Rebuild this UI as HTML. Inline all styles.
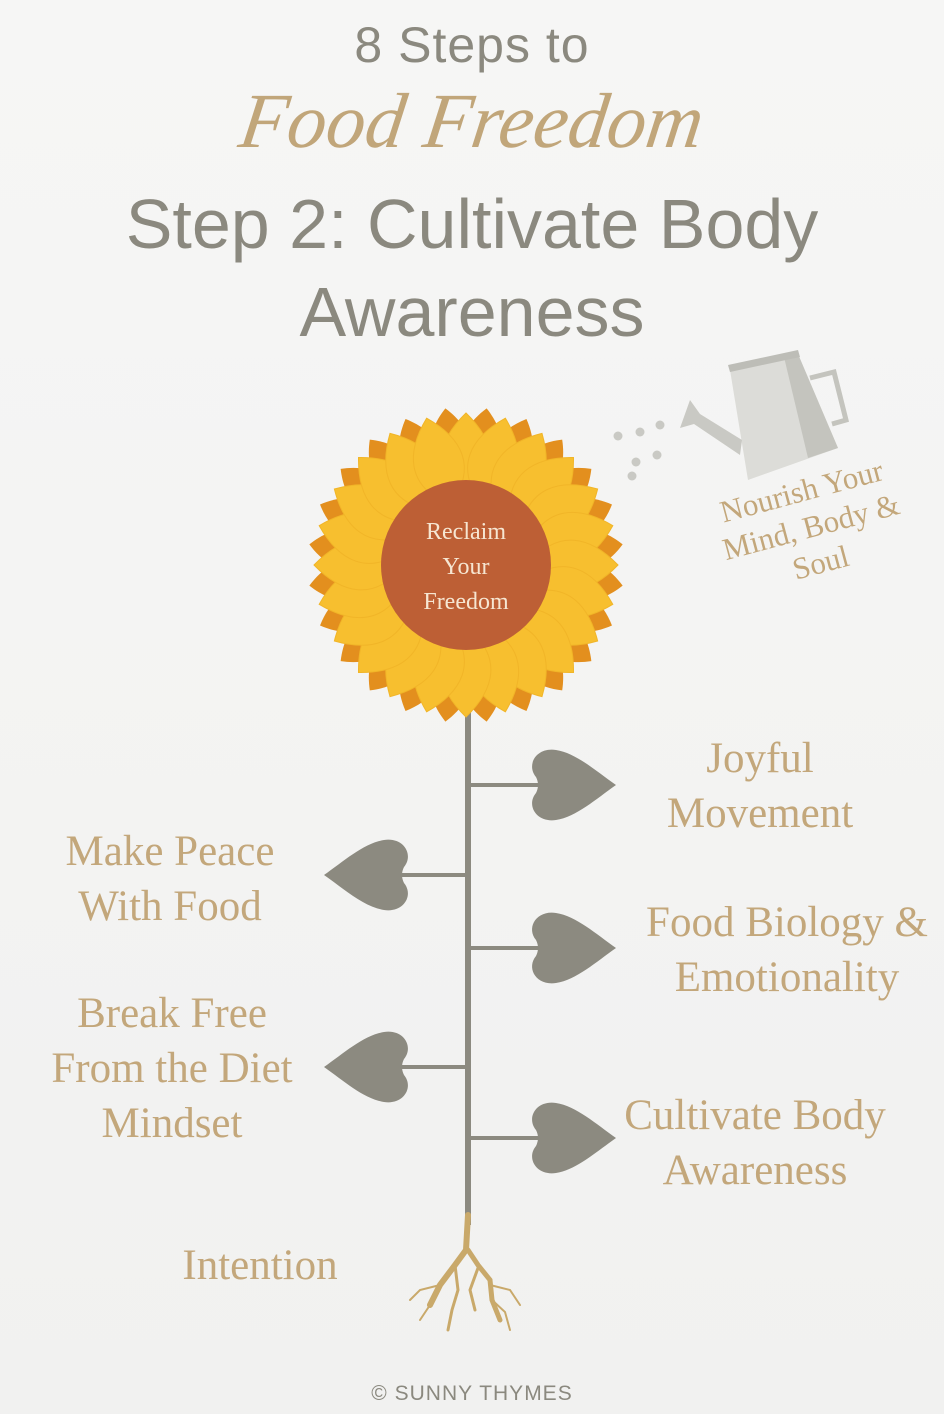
<!DOCTYPE html>
<html><head><meta charset="utf-8"><style>
html,body{margin:0;padding:0;background:#f4f4f3}
body{width:944px;height:1414px;position:relative;overflow:hidden;background:linear-gradient(180deg,#f6f6f5,#f1f1f0)}
.t{position:absolute;left:0;width:944px;text-align:center;font-family:"Liberation Sans",sans-serif;color:#8b897f}
.s{position:absolute;font-family:"Liberation Serif",serif;color:#c3a77b;font-size:43px;line-height:55px;text-align:center}
</style></head><body>
<div class="t" style="top:16px;font-size:50px;letter-spacing:1px">8 Steps to</div>
<div class="t" style="top:76px;font-size:78px;font-family:'Liberation Serif',serif;font-style:italic;color:#c1a67a;transform:skewX(-8deg)">Food Freedom</div>
<div class="t" style="top:180px;font-size:70px;line-height:88px">Step 2: Cultivate Body<br>Awareness</div>

<svg width="944" height="1414" style="position:absolute;left:0;top:0">
<defs>
<path id="h" d="M88,0 C68,-14 48,-32 28,-35 C8,-38 -2,-20 8,-8 Q12,0 8,8 C-2,20 8,38 28,35 C48,32 68,14 88,0 Z" fill="#8c8a80"/>
<path id="p" d="M0,-158 C24,-135 34,-100 0,-62 C-34,-100 -24,-135 0,-158 Z"/>
<path id="q" d="M0,-152 C28,-125 38,-92 0,-62 C-38,-92 -28,-125 0,-152 Z"/>
</defs>
<rect x="465" y="700" width="6" height="525" fill="#8c8a80"/>
<g stroke="#8c8a80" stroke-width="4">
<line x1="468" y1="785" x2="540" y2="785"/>
<line x1="468" y1="948" x2="540" y2="948"/>
<line x1="468" y1="1138" x2="540" y2="1138"/>
<line x1="468" y1="875" x2="400" y2="875"/>
<line x1="468" y1="1067" x2="400" y2="1067"/>
</g>
<use href="#h" transform="translate(528,785)"/>
<use href="#h" transform="translate(528,948)"/>
<use href="#h" transform="translate(528,1138)"/>
<use href="#h" transform="translate(412,875) scale(-1,1)"/>
<use href="#h" transform="translate(412,1067) scale(-1,1)"/>
<g stroke="#c9a96a" fill="none" stroke-linecap="round">
<path d="M468,1215 L466,1250 L455,1265 L440,1285 L430,1305" stroke-width="6"/>
<path d="M468,1250 L478,1265 L490,1280 L492,1300 L500,1320" stroke-width="5"/>
<path d="M455,1265 L458,1290 L452,1310 L448,1330" stroke-width="3"/>
<path d="M478,1268 L470,1290 L475,1310" stroke-width="3"/>
<path d="M440,1285 L420,1290 L410,1300" stroke-width="2"/>
<path d="M490,1285 L510,1290 L520,1305" stroke-width="2"/>
<path d="M430,1305 L420,1320" stroke-width="2"/>
<path d="M492,1300 L505,1312 L510,1330" stroke-width="2"/>
</g>
<g transform="translate(466,565)">
<g fill="#e38f1e">
<use href="#p" transform="rotate(7.5)"/><use href="#p" transform="rotate(22.5)"/><use href="#p" transform="rotate(37.5)"/><use href="#p" transform="rotate(52.5)"/><use href="#p" transform="rotate(67.5)"/><use href="#p" transform="rotate(82.5)"/><use href="#p" transform="rotate(97.5)"/><use href="#p" transform="rotate(112.5)"/><use href="#p" transform="rotate(127.5)"/><use href="#p" transform="rotate(142.5)"/><use href="#p" transform="rotate(157.5)"/><use href="#p" transform="rotate(172.5)"/><use href="#p" transform="rotate(187.5)"/><use href="#p" transform="rotate(202.5)"/><use href="#p" transform="rotate(217.5)"/><use href="#p" transform="rotate(232.5)"/><use href="#p" transform="rotate(247.5)"/><use href="#p" transform="rotate(262.5)"/><use href="#p" transform="rotate(277.5)"/><use href="#p" transform="rotate(292.5)"/><use href="#p" transform="rotate(307.5)"/><use href="#p" transform="rotate(322.5)"/><use href="#p" transform="rotate(337.5)"/><use href="#p" transform="rotate(352.5)"/>
</g>
<g fill="#f7bf2f" stroke="#f1b528" stroke-width="1">
<use href="#q" transform="rotate(0)"/><use href="#q" transform="rotate(15)"/><use href="#q" transform="rotate(30)"/><use href="#q" transform="rotate(45)"/><use href="#q" transform="rotate(60)"/><use href="#q" transform="rotate(75)"/><use href="#q" transform="rotate(90)"/><use href="#q" transform="rotate(105)"/><use href="#q" transform="rotate(120)"/><use href="#q" transform="rotate(135)"/><use href="#q" transform="rotate(150)"/><use href="#q" transform="rotate(165)"/><use href="#q" transform="rotate(180)"/><use href="#q" transform="rotate(195)"/><use href="#q" transform="rotate(210)"/><use href="#q" transform="rotate(225)"/><use href="#q" transform="rotate(240)"/><use href="#q" transform="rotate(255)"/><use href="#q" transform="rotate(270)"/><use href="#q" transform="rotate(285)"/><use href="#q" transform="rotate(300)"/><use href="#q" transform="rotate(315)"/><use href="#q" transform="rotate(330)"/><use href="#q" transform="rotate(345)"/>
</g>
<circle r="85" fill="#bd5f35"/>
<text y="-26" text-anchor="middle" font-family="Liberation Serif,serif" font-size="24" fill="#f6e6d2">Reclaim</text>
<text y="9" text-anchor="middle" font-family="Liberation Serif,serif" font-size="24" fill="#f6e6d2">Your</text>
<text y="44" text-anchor="middle" font-family="Liberation Serif,serif" font-size="24" fill="#f6e6d2">Freedom</text>
</g>
<g fill="#c9c9c4">
<path d="M730,370 L798,354 L838,448 L748,480 Z" fill="#dcdcd8"/>
<path d="M784,357 L798,354 L838,448 L808,458 Z" fill="#c4c4be"/>
<path d="M728,365 L798,350 L800,357 L730,372 Z" fill="#bdbdb7"/>
<path d="M810,378 L834,372 L846,420 L832,424" fill="none" stroke="#c4c4be" stroke-width="5"/>
<path d="M742,440 L700,414 L690,400 L680,428 L694,424 L740,455 Z"/>
<circle cx="660" cy="425" r="4.5"/><circle cx="640" cy="432" r="4.5"/><circle cx="618" cy="436" r="4.5"/>
<circle cx="657" cy="455" r="4.5"/><circle cx="636" cy="462" r="4.5"/><circle cx="632" cy="476" r="4.5"/>
</g>
<g font-family="Liberation Serif,serif" font-size="31" fill="#c3a77b" text-anchor="middle" transform="rotate(-15 812 530)">
<text x="812" y="500">Nourish Your</text>
<text x="812" y="537">Mind, Body &amp;</text>
<text x="812" y="574">Soul</text>
</g>
</svg>

<div class="s" style="left:610px;top:731px;width:300px">Joyful<br>Movement</div>
<div class="s" style="left:20px;top:824px;width:300px">Make Peace<br>With Food</div>
<div class="s" style="left:617px;top:895px;width:340px">Food Biology &amp;<br>Emotionality</div>
<div class="s" style="left:12px;top:986px;width:320px">Break Free<br>From the Diet<br>Mindset</div>
<div class="s" style="left:590px;top:1088px;width:330px">Cultivate Body<br>Awareness</div>
<div class="s" style="left:110px;top:1238px;width:300px">Intention</div>
<div class="t" style="top:1382px;font-size:21px;letter-spacing:1px;color:#8b897f">© SUNNY THYMES</div>
</body></html>
